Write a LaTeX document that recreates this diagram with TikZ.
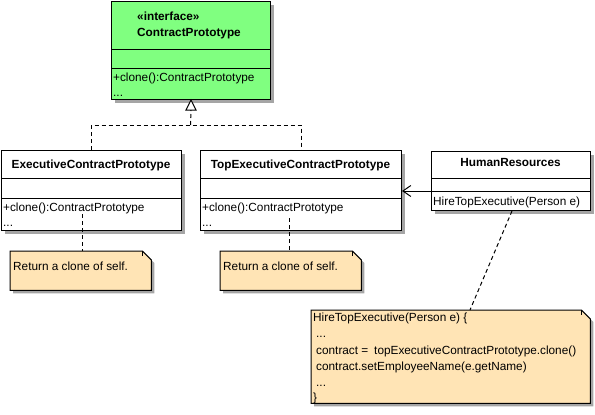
\documentclass[tikz,border=0pt]{standalone}
\usepackage{fontspec}
\setmainfont{Liberation Sans}
\usetikzlibrary{arrows.meta,shadows}
\definecolor{ifgreen}{RGB}{128,255,128}
\definecolor{notefill}{RGB}{255,228,181}
\definecolor{shadowgray}{RGB}{165,165,165}
\newcommand\umlnote[1]{%
  \fill[shadowgray] ([shift={(3pt,-3pt)}]#1.north west) -- ([shift={(-6pt,-3pt)}]#1.north east) -- ([shift={(3pt,-12pt)}]#1.north east) -- ([shift={(3pt,-3pt)}]#1.south east) -- ([shift={(3pt,-3pt)}]#1.south west) -- cycle;
  \draw[line width=1pt, fill=notefill] (#1.north west) -- ([xshift=-9pt]#1.north east) -- ([yshift=-9pt]#1.north east) -- (#1.south east) -- (#1.south west) -- cycle;
  \draw[line width=1pt] ([xshift=-9pt]#1.north east) -- ([shift={(-9pt,-5pt)}]#1.north east);
}
\begin{document}
\begin{tikzpicture}[x=1pt,y=-1pt,
  font=\fontsize{11.8}{13}\selectfont,
  umlbox/.style={draw=black, line width=1pt, anchor=north west, inner sep=0pt, fill=white,
    general shadow={fill=shadowgray, shadow xshift=3pt, shadow yshift=-3pt}},
  notebox/.style={anchor=north west, inner sep=0pt},
  txt/.style={anchor=base west, inner sep=0pt},
  btxt/.style={anchor=base, inner sep=0pt, font=\fontsize{11.8}{13}\selectfont\bfseries},
  divider/.style={line width=1pt},
  dsh/.style={line width=1pt, dash pattern=on 4pt off 3pt}]
\useasboundingbox (0,0) rectangle (595,415);

% ContractPrototype interface
\node[umlbox, fill=ifgreen, minimum width=159pt, minimum height=98pt] (cp) at (111,1) {};
\draw[divider] ([yshift=-48pt]cp.north west) -- ([yshift=-48pt]cp.north east);
\draw[divider] ([yshift=-67pt]cp.north west) -- ([yshift=-67pt]cp.north east);
\node[txt, font=\fontsize{11.8}{13}\selectfont\bfseries] (cpst) at (137,20) {«interface»};
\node[txt, font=\fontsize{11.8}{13}\selectfont\bfseries] (cpname) at (137,36.5) {ContractPrototype};
\node[txt] (cpm1) at (113,81) {+clone():ContractPrototype};
\node[txt] (cpm2) at (113,96.5) {...};

% ExecutiveContractPrototype
\node[umlbox, minimum width=180pt, minimum height=80pt] (ecp) at (1,150) {};
\draw[divider] ([yshift=-28pt]ecp.north west) -- ([yshift=-28pt]ecp.north east);
\draw[divider] ([yshift=-48pt]ecp.north west) -- ([yshift=-48pt]ecp.north east);
\node[btxt] (ecpname) at (91,168) {ExecutiveContractPrototype};
\node[txt] (ecpm1) at (3,211) {+clone():ContractPrototype};
\node[txt] (ecpm2) at (3,226) {...};

% TopExecutiveContractPrototype
\node[umlbox, minimum width=201pt, minimum height=80pt] (tecp) at (200,150) {};
\draw[divider] ([yshift=-28pt]tecp.north west) -- ([yshift=-28pt]tecp.north east);
\draw[divider] ([yshift=-48pt]tecp.north west) -- ([yshift=-48pt]tecp.north east);
\node[btxt] (tecpname) at (300.5,168) {TopExecutiveContractPrototype};
\node[txt] (tecpm1) at (202,211) {+clone():ContractPrototype};
\node[txt] (tecpm2) at (202,226) {...};

% HumanResources
\node[umlbox, minimum width=159pt, minimum height=59pt] (hr) at (431,151) {};
\draw[divider] ([yshift=-27pt]hr.north west) -- ([yshift=-27pt]hr.north east);
\draw[divider] ([yshift=-40pt]hr.north west) -- ([yshift=-40pt]hr.north east);
\node[btxt] (hrname) at (510.5,166) {HumanResources};
\node[txt] (hrm1) at (433,205) {HireTopExecutive(Person e)};

% Notes
\node[notebox, minimum width=141pt, minimum height=39pt] (n1) at (10,251) {};
\umlnote{n1}
\node[txt] (n1t) at (13,270.5) {Return a clone of self.};
\node[notebox, minimum width=141pt, minimum height=39pt] (n2) at (220,251) {};
\umlnote{n2}
\node[txt] (n2t) at (223,270.5) {Return a clone of self.};
\node[notebox, minimum width=279pt, minimum height=93pt] (n3) at (311,310) {};
\umlnote{n3}
\node[txt] (n3l1) at (313,321) {HireTopExecutive(Person e) \{};
\node[txt] (n3l2) at (316,337) {...};
\node[txt] (n3l3) at (316,354) {contract =\enspace topExecutiveContractPrototype.clone()};
\node[txt] (n3l4) at (316,370) {contract.setEmployeeName(e.getName)};
\node[txt] (n3l5) at (316,386) {...};
\node[txt] (n3l6) at (313,401) {\}};

% Realization tree
\coordinate (j) at (190.5,125);
\draw[dsh] (ecp.north) |- (tecp.north |- j) -- (tecp.north);
\draw[dsh] (j) -- ([yshift=-10pt]cp.south);
\draw[line width=1pt, fill=white] (cp.south) -- ++(-5,10) -- ++(10,0) -- cycle;

% Association
\draw[line width=1pt, -{Straight Barb[length=8pt,width=11pt,line width=1pt]}] (hr.west |- 0,191) -- (tecp.east |- 0,191);

% Note anchors
\coordinate (a1) at (82,214);
\coordinate (a2) at (289,218);
\coordinate (a3) at (512,211);
\draw[dsh] (a1) -- (a1 |- n1.north);
\draw[dsh] (a2) -- (a2 |- n2.north);
\draw[dsh] (a3) -- (470,310);
\end{tikzpicture}
\end{document}
